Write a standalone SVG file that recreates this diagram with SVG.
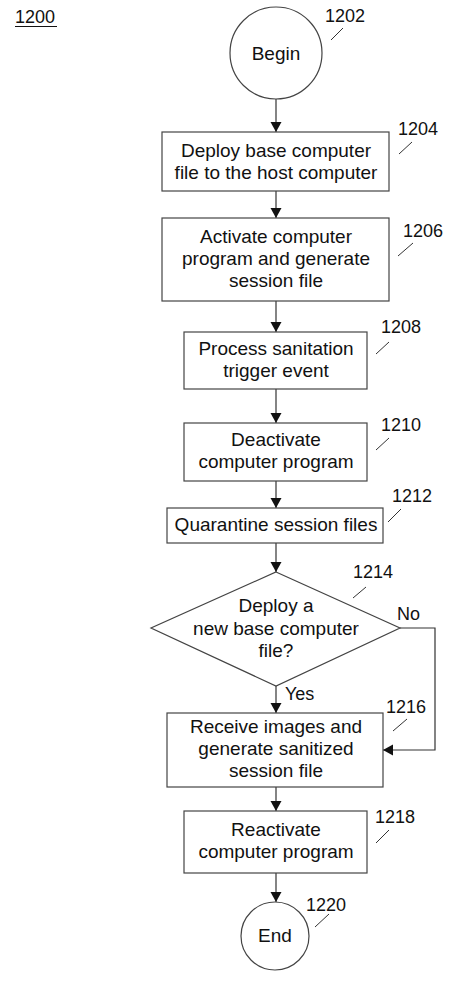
<svg xmlns="http://www.w3.org/2000/svg" width="474" height="992" viewBox="0 0 474 992">
<style>
.box{fill:#fff;stroke:#444;stroke-width:1.2}
.t{font-family:"Liberation Sans",Arial,sans-serif;font-size:19px;fill:#111;text-anchor:middle}
.n{font-family:"Liberation Sans",Arial,sans-serif;font-size:18px;fill:#111}
.ld{stroke:#333;stroke-width:1;fill:none}
.c{stroke:#333;stroke-width:1.2;fill:none;marker-end:url(#ah)}
</style>
<defs>
<marker id="ah" markerUnits="userSpaceOnUse" markerWidth="10" markerHeight="14" viewBox="0 0 10 14" refX="10" refY="7" orient="auto">
<path d="M0,1.5 L10,7 L0,12.5 Z" fill="#111"/>
</marker>
</defs>
<rect width="474" height="992" fill="#fff"/>
<g id="title">
<text class="n" x="15" y="23">1200</text>
<line x1="15" y1="26.5" x2="57" y2="26.5" stroke="#111" stroke-width="1.2"/>
</g>
<g id="connectors">
<path class="c" d="M276,99 V132"/>
<path class="c" d="M276,191 V218"/>
<path class="c" d="M276,301 V332"/>
<path class="c" d="M276,389 V423"/>
<path class="c" d="M276,481 V508"/>
<path class="c" d="M276,543 V572"/>
<path class="c" d="M276,686 V713"/>
<path class="c" d="M276,787 V811"/>
<path class="c" d="M276,873 V902"/>
<path class="c" d="M400,628 H435 V750 H383"/>
<text class="n" x="397" y="620">No</text>
<text class="n" x="285" y="700">Yes</text>
</g>
<g id="n1202">
<circle class="box" cx="276" cy="53" r="46"/>
<text class="t" x="276" y="60">Begin</text>
<text class="n" x="325" y="22">1202</text>
<line class="ld" x1="343" y1="28" x2="331" y2="40"/>
</g>
<g id="n1204">
<rect class="box" x="162" y="132" width="227" height="59"/>
<text class="t" x="276" y="157">Deploy base computer</text>
<text class="t" x="276" y="179">file to the host computer</text>
<text class="n" x="398" y="135">1204</text>
<line class="ld" x1="412" y1="142" x2="399" y2="154"/>
</g>
<g id="n1206">
<rect class="box" x="162" y="218" width="227" height="83"/>
<text class="t" x="276" y="243">Activate computer</text>
<text class="t" x="276" y="265">program and generate</text>
<text class="t" x="276" y="287">session file</text>
<text class="n" x="403" y="237">1206</text>
<line class="ld" x1="413" y1="243" x2="398" y2="256"/>
</g>
<g id="n1208">
<rect class="box" x="184" y="332" width="183" height="57"/>
<text class="t" x="276" y="355">Process sanitation</text>
<text class="t" x="276" y="377">trigger event</text>
<text class="n" x="381" y="333">1208</text>
<line class="ld" x1="389" y1="342" x2="376" y2="354"/>
</g>
<g id="n1210">
<rect class="box" x="184" y="423" width="183" height="58"/>
<text class="t" x="276" y="446">Deactivate</text>
<text class="t" x="276" y="468">computer program</text>
<text class="n" x="381" y="431">1210</text>
<line class="ld" x1="389" y1="438" x2="376" y2="450"/>
</g>
<g id="n1212">
<rect class="box" x="167" y="508" width="216" height="35"/>
<text class="t" x="276" y="531">Quarantine session files</text>
<text class="n" x="392" y="502">1212</text>
<line class="ld" x1="401" y1="509" x2="388" y2="522"/>
</g>
<g id="n1214">
<polygon class="box" points="276,572 400,628 276,686 151,628"/>
<text class="t" x="276" y="612">Deploy a</text>
<text class="t" x="276" y="635">new base computer</text>
<text class="t" x="276" y="657">file?</text>
<text class="n" x="353" y="578">1214</text>
<line class="ld" x1="366" y1="587" x2="353" y2="598"/>
</g>
<g id="n1216">
<rect class="box" x="167" y="713" width="216" height="74"/>
<text class="t" x="276" y="733">Receive images and</text>
<text class="t" x="276" y="755">generate sanitized</text>
<text class="t" x="276" y="777">session file</text>
<text class="n" x="386" y="713">1216</text>
<line class="ld" x1="407" y1="719" x2="393" y2="731"/>
</g>
<g id="n1218">
<rect class="box" x="184" y="811" width="183" height="62"/>
<text class="t" x="276" y="836">Reactivate</text>
<text class="t" x="276" y="858">computer program</text>
<text class="n" x="375" y="823">1218</text>
<line class="ld" x1="389" y1="830" x2="376" y2="843"/>
</g>
<g id="n1220">
<circle class="box" cx="275" cy="936" r="34"/>
<text class="t" x="275" y="942">End</text>
<text class="n" x="306" y="911">1220</text>
<line class="ld" x1="329" y1="914" x2="315" y2="927"/>
</g>
</svg>
